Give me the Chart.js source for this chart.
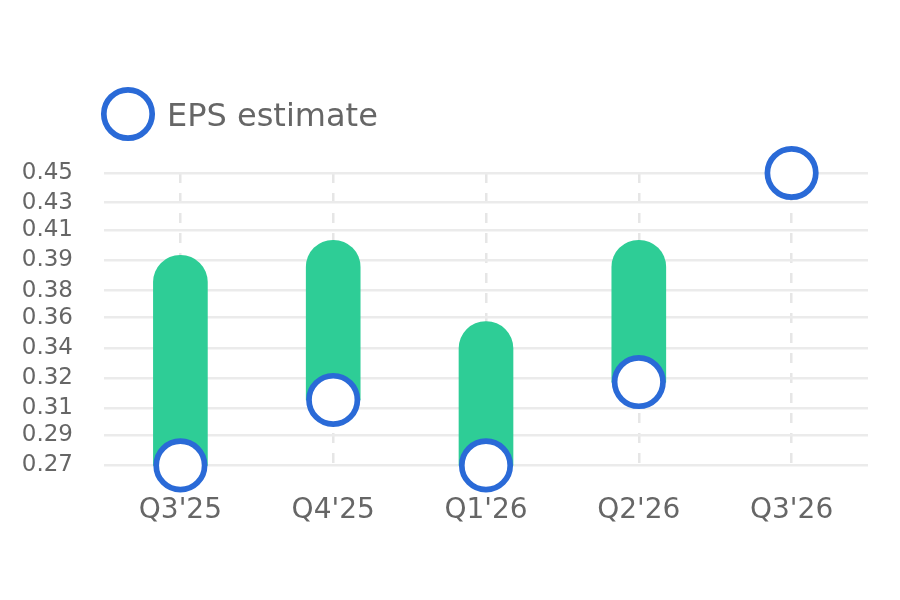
<!DOCTYPE html>
<html>
<head>
<meta charset="utf-8">
<script src="https://cdn.jsdelivr.net/npm/chart.js@4/dist/chart.umd.min.js"></script>
<style>
  html, body { margin: 0; padding: 0; background: #ffffff; }
  #wrap { width: 900px; height: 600px; }
</style>
</head>
<body>
<div id="wrap"><canvas id="c" width="900" height="600"></canvas></div>
<script>
// ---- data ----
const categories = ["Q3'25", "Q4'25", "Q1'26", "Q2'26", "Q3'26"];
const epsEstimate = [0.27, 0.3103, 0.27, 0.3213, 0.45];
const rangeLow  = [0.27, 0.3103, 0.27, 0.3213, null];
const rangeHigh = [0.3993, 0.4086, 0.3585, 0.4086, null];
const tickValues = [0.27, 0.2886, 0.3051, 0.3238, 0.3424, 0.361, 0.3776, 0.3962, 0.4148, 0.4318, 0.45];
const tickLabels = ['0.27', '0.29', '0.31', '0.32', '0.34', '0.36', '0.38', '0.39', '0.41', '0.43', '0.45'];

const BLUE = '#2a6ad7';
const GREEN = '#2ecd96';
const GRID = '#ebebeb';
const TEXT = '#666666';

const rangeData = categories.map((c, i) =>
  rangeLow[i] === null ? null : [rangeLow[i], rangeHigh[i]]);

// legend marker (ring), drawn slightly above the text middle
const marker = document.createElement('canvas');
marker.width = 66; marker.height = 74;
(function () {
  const m = marker.getContext('2d');
  m.beginPath();
  m.arc(33, 33, 24.2, 0, Math.PI * 2);
  m.fillStyle = '#ffffff';
  m.fill();
  m.lineWidth = 5.7;
  m.strokeStyle = BLUE;
  m.stroke();
})();

const LEGEND_EXTRA = 29;
const legendTweak = {
  id: 'legendTweak',
  beforeInit(chart) {
    const lg = chart.legend;
    if (lg) {
      const fit = lg.fit;
      lg.fit = function () {
        fit.call(this);
        this.height += LEGEND_EXTRA;
      };
      const draw = lg.draw;
      lg.draw = function () {
        if (typeof this._draw === 'function') {
          if (this.options.display) this._draw();
        } else {
          draw.call(this);
        }
      };
    }
  },
  afterLayout(chart) {
    if (chart.legend) {
      chart.legend.left = chart.chartArea.left - 9;
    }
  }
};

new Chart(document.getElementById('c'), {
  data: {
    labels: categories,
    datasets: [
      {
        type: 'line',
        label: 'EPS estimate',
        data: epsEstimate,
        showLine: false,
        pointRadius: 24.2,
        pointHoverRadius: 24.2,
        pointBorderWidth: 5.7,
        pointBackgroundColor: '#ffffff',
        pointBorderColor: BLUE,
        borderColor: BLUE,
        backgroundColor: '#ffffff',
        clip: false,
        order: 0
      },
      {
        type: 'bar',
        label: 'range',
        data: rangeData,
        backgroundColor: GREEN,
        borderWidth: 0,
        borderRadius: 27,
        borderSkipped: 'start',
        barThickness: 54,
        clip: false,
        order: 1
      }
    ]
  },
  options: {
    responsive: false,
    animation: false,
    events: [],
    layout: { padding: { top: 92, left: 20, right: 32, bottom: 69 } },
    plugins: {
      tooltip: { enabled: false },
      legend: {
        display: true,
        position: 'top',
        align: 'start',
        labels: {
          usePointStyle: true,
          pointStyleWidth: 46,
          padding: 10,
          color: TEXT,
          font: { family: 'DejaVu Sans', size: 32 },
          generateLabels(chart) {
            const items = Chart.defaults.plugins.legend.labels.generateLabels(chart);
            return items.filter(it => it.datasetIndex === 0).map(it => {
              it.pointStyle = marker;
              return it;
            });
          }
        }
      }
    },
    scales: {
      x: {
        type: 'category',
        offset: true,
        grid: {
          display: true,
          offset: false,
          color: '#e6e6e6',
          lineWidth: 2.5,
          drawTicks: true,
          tickLength: 26,
          tickColor: 'rgba(0,0,0,0)'
        },
        border: { display: false, dash: [10, 10] },
        ticks: {
          color: TEXT,
          padding: 3,
          font: { family: 'DejaVu Sans', size: 28 }
        }
      },
      y: {
        type: 'linear',
        min: 0.27,
        max: 0.45,
        afterBuildTicks(scale) {
          scale.ticks = tickValues.map(v => ({ value: v }));
        },
        afterFit(scale) {
          scale.width = 84;
        },
        grid: {
          color: GRID,
          lineWidth: 2.5,
          drawTicks: false
        },
        border: { display: false },
        ticks: {
          autoSkip: false,
          color: TEXT,
          padding: 31,
          font: { family: 'DejaVu Sans', size: 23 },
          callback(value, index) { return tickLabels[index]; }
        }
      }
    }
  },
  plugins: [legendTweak]
});
</script>
</body>
</html>
